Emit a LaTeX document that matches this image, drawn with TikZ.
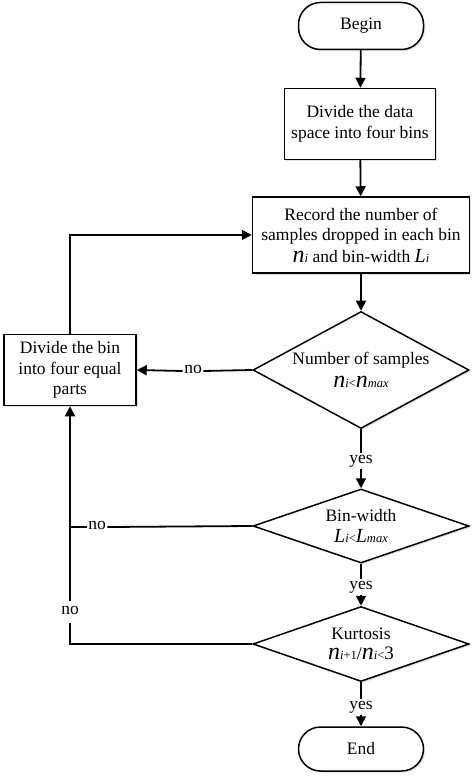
\documentclass[tikz,border=0pt]{standalone}
\usepackage{fontspec}
\setmainfont{Liberation Serif}
\usetikzlibrary{arrows.meta,shapes.geometric,shadows}
\newcommand{\mybn}{{\fontsize{24}{24}\selectfont\itshape n}}
\newcommand{\mybL}{{\fontsize{20}{20}\selectfont\itshape L}}
\newcommand{\mysub}[1]{{\fontsize{12.5}{12.5}\selectfont\itshape #1}}
\newcommand{\mysubup}[1]{{\fontsize{12.5}{12.5}\selectfont #1}}
\begin{document}
\begin{tikzpicture}[x=1pt,y=-1pt,
  every node/.style={font=\fontsize{17.5}{20.5}\selectfont},
  shad/.style={drop shadow={shadow xshift=1.5pt,shadow yshift=-1.5pt,fill=blue!30!gray,opacity=0.2}},
  procbox/.style={draw,line width=1.5pt,fill=white,shad,align=center,inner sep=0pt},
  term/.style={draw,line width=1.5pt,fill=white,shad,rounded corners=22pt,inner sep=0pt,minimum width=125pt},
  decide/.style={draw,diamond,line width=1.5pt,fill=white,shad,inner sep=0pt,minimum width=216pt},
  dtext/.style={align=center,inner sep=0pt},
  lbl/.style={inner xsep=1.5pt,inner ysep=2pt,text height=8pt,text depth=3pt},
  conn/.style={line width=1.8pt},
  arr/.style={conn,-{Triangle[length=10pt,width=10pt]}}]
\useasboundingbox (0,0) rectangle (474,783);
\node[term,minimum height=47pt] (begin) at (361,26) {Begin};
\node[procbox,minimum width=151pt,minimum height=71pt] (divide) at (360,124) {Divide the data\\space into four bins};
\node[procbox,minimum width=217pt,minimum height=76pt] (record) at (361,235) {Record the number of\\samples dropped in each bin\\[1pt]\mybn\mysub{i} and bin-width \mybL\mysub{i}};
\node[decide,minimum height=117pt] (d1) at (361,370) {};
\node[dtext] (d1t) at (361,370) {Number of samples\\[2pt]\mybn\mysub{i}\mysubup{<}\mybn\mysub{max}};
\node[lbl] (yes1) at (361,461) {yes};
\node[decide,minimum height=74pt] (d2) at (361,526) {};
\node[dtext] (d2t) at (361,526) {Bin-width\\\mybL\mysub{i}\mysubup{<}\mybL\mysub{max}};
\node[lbl] (yes2) at (361,587) {yes};
\node[decide,minimum height=75pt] (d3) at (361,644) {};
\node[dtext] (d3t) at (361,644) {Kurtosis\\\mybn\mysubup{\textit{i}+1}{\fontsize{18}{18}\selectfont/}\mybn\mysub{i}\mysubup{<}{\fontsize{19}{19}\selectfont 3}};
\node[lbl] (yes3) at (361,707) {yes};
\node[term,minimum height=44pt] (end) at (361,749) {End};
\node[procbox,minimum width=132pt,minimum height=71pt] (left) at (70,370) {Divide the bin\\into four equal\\parts};
\node[lbl] (no1) at (193,371) {no};
\node[lbl] (no2) at (97,527) {no};
\node[lbl,inner ysep=5pt] (no3) at (70,612) {no};
\coordinate (j2) at (70,527);
\coordinate (j3) at (70,644);
\draw[arr] (begin) -- (divide);
\draw[arr] (divide) -- (record);
\draw[arr] (record) -- (d1);
\draw[conn] (d1.south) -- (yes1.north);
\draw[arr] (yes1.south) -- (d2.north);
\draw[conn] (d2.south) -- (yes2.north);
\draw[arr] (yes2.south) -- (d3.north);
\draw[conn] (d3.south) -- (yes3.north);
\draw[arr] (yes3.south) -- (end.north);
\draw[conn] (d1.west) -- (no1.east);
\draw[arr] (no1.west) -- (left.east);
\draw[arr] (left.north) |- (record.west);
\draw[conn] (d2.west) -- (no2.east);
\draw[conn] (no2.west) -- (j2);
\draw[conn] (d3.west) -- (j3) -- (no3.south);
\draw[arr] (no3.north) -- (left.south);
\end{tikzpicture}
\end{document}
